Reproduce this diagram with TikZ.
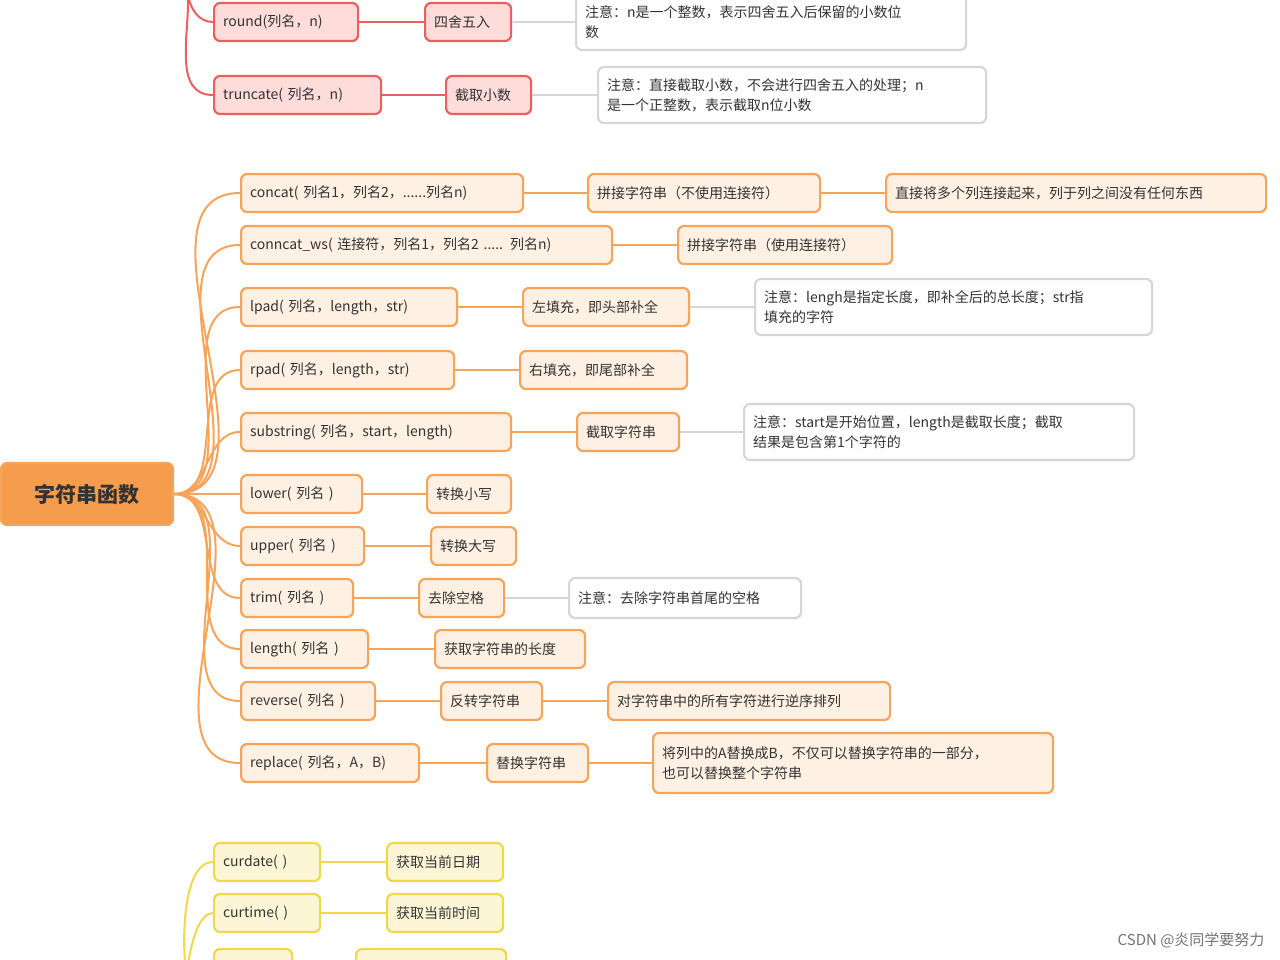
\documentclass[tikz,border=0pt]{standalone}
\usepackage{fontspec}
\setmainfont{Noto Sans CJK SC}
\definecolor{redline}{HTML}{E8615F}
\definecolor{redfill}{HTML}{FDDCDA}
\definecolor{orgline}{HTML}{F6A45A}
\definecolor{orgfill}{HTML}{FEF0E2}
\definecolor{rootfill}{HTML}{F59D4C}
\definecolor{yelline}{HTML}{EFD94A}
\definecolor{yelfill}{HTML}{FDF6D6}
\definecolor{noteline}{HTML}{D6D6D6}
\tikzset{
  box/.style={rounded corners=6pt, line width=2.2pt, minimum height=38pt, inner xsep=9pt, anchor=west, align=left, font=\fontsize{14}{20}\selectfont, text=black!80},
  redbox/.style={box, draw=redline, fill=redfill},
  orgbox/.style={box, draw=orgline, fill=orgfill},
  yelbox/.style={box, draw=yelline, fill=yelfill},
  notebox/.style={box, draw=noteline, fill=white, minimum height=56pt},
  redlink/.style={redline, line width=2pt},
  orglink/.style={orgline, line width=2pt},
  yellink/.style={yelline, line width=2pt},
  notelink/.style={noteline, line width=2pt}
}
\begin{document}
\begin{tikzpicture}[x=1pt,y=-1pt]
\useasboundingbox (0,0) rectangle (1280,960);

% red branch
\coordinate (redtop) at (188,-5);
\node[redbox, text width=126pt] (round) at (213,22) {round(列名，n)};
\node[redbox, text width=68pt] (roundA) at (424,22) {四舍五入};
\node[notebox, text width=372pt] (roundB) at (575,22) {注意：n是一个整数，表示四舍五入后保留的小数位\\数};
\node[redbox, text width=149pt] (trunc) at (213,95) {truncate( 列名，n)};
\node[redbox, text width=67pt] (truncA) at (445,95) {截取小数};
\node[notebox, text width=370pt] (truncB) at (597,95) {注意：直接截取小数，不会进行四舍五入的处理；n\\是一个正整数，表示截取n位小数};
\draw[redlink] (redtop) to[out=-80,in=180] (round.west);
\draw[redlink] (redtop) to[out=-88,in=180] (trunc.west);
\draw[redlink] (round) -- (roundA);
\draw[redlink] (trunc) -- (truncA);
\draw[notelink] (roundA) -- (roundB);
\draw[notelink] (truncA) -- (truncB);

% orange branch
\node[box, draw=orgline, fill=rootfill, minimum height=62pt, minimum width=172pt, align=center, font=\fontsize{21}{24}\selectfont\bfseries, anchor=center] (root) at (87,494) {字符串函数};
\node[orgbox, text width=264pt] (concat) at (240,193) {concat( 列名1，列名2，......列名n)};
\node[orgbox, text width=214pt] (concatA) at (587,193) {拼接字符串（不使用连接符）};
\node[orgbox, text width=362pt] (concatB) at (885,193) {直接将多个列连接起来，列于列之间没有任何东西};
\node[orgbox, text width=353pt] (ws) at (240,245) {conncat\_ws( 连接符，列名1，列名2 ..... 列名n)};
\node[orgbox, text width=196pt] (wsA) at (677,245) {拼接字符串（使用连接符）};
\node[orgbox, text width=198pt] (lpad) at (240,307) {lpad( 列名，length，str)};
\node[orgbox, text width=148pt] (lpadA) at (522,307) {左填充，即头部补全};
\node[notebox, text width=379pt] (lpadB) at (754,307) {注意：lengh是指定长度，即补全后的总长度；str指\\填充的字符};
\node[orgbox, text width=195pt] (rpad) at (240,370) {rpad( 列名，length，str)};
\node[orgbox, text width=149pt] (rpadA) at (519,370) {右填充，即尾部补全};
\node[orgbox, text width=252pt] (sub) at (240,432) {substring( 列名，start，length)};
\node[orgbox, text width=84pt] (subA) at (576,432) {截取字符串};
\node[notebox, text width=372pt] (subB) at (743,432) {注意：start是开始位置，length是截取长度；截取\\结果是包含第1个字符的};
\node[orgbox, text width=103pt] (lower) at (240,494) {lower( 列名 )};
\node[orgbox, text width=66pt] (lowerA) at (426,494) {转换小写};
\node[orgbox, text width=105pt] (upper) at (240,546) {upper( 列名 )};
\node[orgbox, text width=67pt] (upperA) at (430,546) {转换大写};
\node[orgbox, text width=94pt] (trim) at (240,598) {trim( 列名 )};
\node[orgbox, text width=67pt] (trimA) at (418,598) {去除空格};
\node[notebox, text width=214pt, minimum height=40pt] (trimB) at (568,598) {注意：去除字符串首尾的空格};
\node[orgbox, text width=109pt] (len) at (240,649) {length( 列名 )};
\node[orgbox, text width=132pt] (lenA) at (434,649) {获取字符串的长度};
\node[orgbox, text width=116pt] (rev) at (240,701) {reverse( 列名 )};
\node[orgbox, text width=83pt] (revA) at (440,701) {反转字符串};
\node[orgbox, text width=264pt] (revB) at (607,701) {对字符串中的所有字符进行逆序排列};
\node[orgbox, text width=160pt] (rep) at (240,763) {replace( 列名，A，B)};
\node[orgbox, text width=83pt] (repA) at (486,763) {替换字符串};
\node[orgbox, text width=382pt, minimum height=60pt] (repB) at (652,763) {将列中的A替换成B，不仅可以替换字符串的一部分，\\也可以替换整个字符串};
\foreach \f in {concat,ws,lpad,rpad,sub,lower,upper,trim,len,rev,rep}
  \draw[orglink] (root.east) to[out=0,in=180] (\f.west);
\foreach \a/\b in {concat/concatA,concatA/concatB,ws/wsA,lpad/lpadA,rpad/rpadA,sub/subA,lower/lowerA,upper/upperA,trim/trimA,len/lenA,rev/revA,revA/revB,rep/repA,repA/repB}
  \draw[orglink] (\a) -- (\b);
\foreach \a/\b in {lpadA/lpadB,subA/subB,trimA/trimB}
  \draw[notelink] (\a) -- (\b);

% yellow branch
\coordinate (yelbot) at (188,965);
\node[yelbox, text width=88pt] (cdate) at (213,862) {curdate( )};
\node[yelbox, text width=98pt] (cdateA) at (386,862) {获取当前日期};
\node[yelbox, text width=88pt] (ctime) at (213,913) {curtime( )};
\node[yelbox, text width=98pt] (ctimeA) at (386,913) {获取当前时间};
\node[yelbox, minimum width=78pt] (now) at (213,968) {};
\node[yelbox, minimum width=150pt] (nowA) at (355,968) {};
\draw[yellink] (yelbot) to[out=-92,in=180] (cdate.west);
\draw[yellink] (yelbot) to[out=-95,in=180] (ctime.west);
\draw[yellink] (cdate) -- (cdateA);
\draw[yellink] (ctime) -- (ctimeA);
\draw[yellink] (now) -- (nowA);

% watermark
\node[anchor=east, text=black!55, font=\fontsize{15}{17}\selectfont] (mark) at (1268,940) {CSDN @炎同学要努力};
\end{tikzpicture}
\end{document}
